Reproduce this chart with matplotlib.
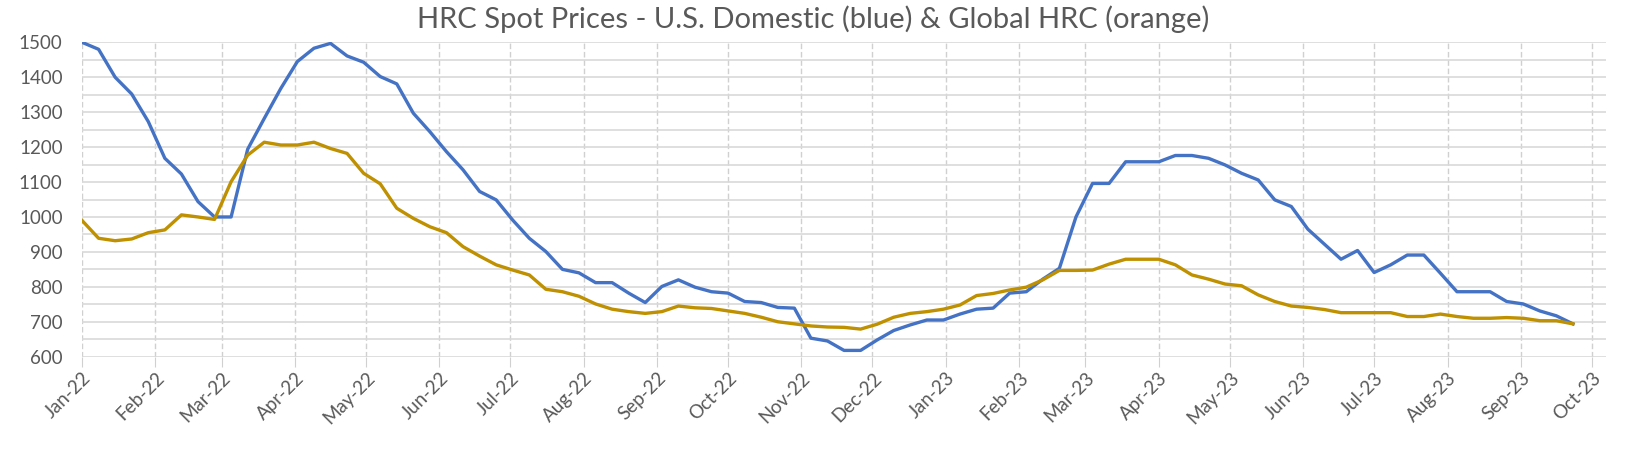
import matplotlib
matplotlib.use("Agg")
import matplotlib.pyplot as plt
import matplotlib.dates as mdates
from matplotlib.ticker import MultipleLocator
import numpy as np
import pandas as pd

# weekly spot prices, $/short ton
dates = pd.date_range("2022-01-01", periods=91, freq="7D")

us_domestic = [
    1500, 1480, 1400, 1352, 1273, 1168, 1123, 1044, 1000, 1000,
    1194, 1282, 1368, 1445, 1483, 1497, 1461, 1443, 1402, 1381,
    1297, 1244, 1187, 1135, 1073, 1049, 991, 939, 901, 850,
    840, 812, 812, 782, 755, 801, 820, 799, 786, 782,
    758, 755, 741, 739, 653, 645, 618, 618, 648, 675,
    691, 705, 705, 722, 736, 739, 782, 786, 822, 853,
    1000, 1096, 1096, 1158, 1158, 1158, 1176, 1176, 1168, 1149,
    1125, 1106, 1049, 1030, 965, 922, 879, 904, 841, 863,
    891, 891, 839, 786, 786, 786, 758, 751, 731, 717,
    694,
]

global_hrc = [
    990, 939, 932, 937, 955, 963, 1006, 1000, 993, 1101,
    1177, 1214, 1206, 1206, 1214, 1196, 1182, 1125, 1095, 1025,
    996, 972, 955, 915, 888, 863, 848, 834, 793, 786,
    773, 751, 736, 729, 724, 729, 745, 740, 738, 731,
    724, 713, 700, 694, 688, 685, 684, 679, 693, 713,
    724, 729, 736, 748, 775, 781, 791, 799, 820, 847,
    847, 848, 865, 879, 879, 879, 863, 834, 822, 808,
    803, 777, 758, 745, 741, 735, 726, 726, 726, 726,
    715, 715, 722, 715, 710, 710, 712, 710, 703, 703,
    694,
]

grey = "#595959"
fam = ["Lato", "DejaVu Sans"]

fig = plt.figure(figsize=(16.34, 4.58), dpi=100)
ax = fig.add_axes([0.0502, 0.2212, 0.9327, 0.6864])

ax.plot(dates, us_domestic, color="#4472C4", lw=2.4, solid_joinstyle="round", zorder=3)
ax.plot(dates, global_hrc, color="#BF9000", lw=2.4, solid_joinstyle="round", zorder=3)

ax.set_ylim(600, 1500)
ax.set_xlim(pd.Timestamp("2022-01-01"), pd.Timestamp("2023-10-07"))

ax.yaxis.set_major_locator(MultipleLocator(100))
ax.yaxis.set_minor_locator(MultipleLocator(50))
ax.xaxis.set_major_locator(mdates.MonthLocator())
ax.xaxis.set_major_formatter(mdates.DateFormatter("%b-%y"))

ax.grid(axis="y", which="both", color="#D9D9D9", lw=1.2)
ax.grid(axis="x", which="major", color="#D0D0D0", lw=1.0, ls=(0, (4, 2)))
ax.set_axisbelow(True)

for s in ax.spines.values():
    s.set_visible(False)

ax.tick_params(axis="y", which="both", length=0, labelsize=13.5, labelcolor=grey, pad=14)
ax.tick_params(axis="x", length=7, color="#D0D0D0", labelsize=13.5, labelcolor=grey, pad=2)
for lbl in ax.get_xticklabels():
    lbl.set_rotation(45)
    lbl.set_ha("right")
    lbl.set_rotation_mode("anchor")
for lbl in ax.get_xticklabels() + ax.get_yticklabels():
    lbl.set_family(fam)

fig.text(0.4975, 0.958, "HRC Spot Prices - U.S. Domestic (blue) & Global HRC (orange)",
         ha="center", va="center", fontsize=21, color=grey, family=fam)

fig.savefig("out.png", dpi=100)
